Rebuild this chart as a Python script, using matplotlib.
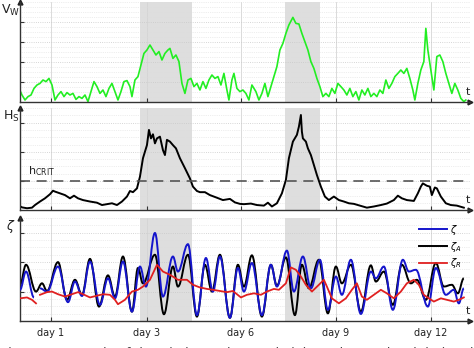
import numpy as np
import matplotlib
matplotlib.use('Agg')
import matplotlib.pyplot as plt
from matplotlib.path import Path
from matplotlib.patches import PathPatch
from matplotlib.ticker import MultipleLocator

# time axis (arbitrary units), day ticks
day_pos = [51, 147, 241, 336, 431]
day_labels = ['day 1', 'day 3', 'day 6', 'day 9', 'day 12']
storms = [(140, 192), (285, 320)]

# wind speed V_W
t_w = [19, 22, 25, 28, 31, 34, 37, 40, 43, 46, 49, 52, 55, 58, 61, 64, 67, 70, 73, 76,
       79, 82, 85, 88, 91, 94, 97, 100, 103, 106, 109, 112, 115, 118, 121, 124, 127, 130,
       132, 135, 138, 141, 144, 147, 150, 153, 156, 159, 162, 165, 168, 170, 173, 176,
       179, 182, 185, 188, 191, 194, 197, 200, 203, 206, 209, 212, 215, 218, 221, 224,
       227, 229, 232, 234, 237, 240, 243, 246, 249, 252, 256, 259, 262, 265, 268, 271,
       274, 277, 280, 283, 286, 289, 293, 296, 299, 302, 305, 308, 311, 314, 317, 320,
       323, 326, 329, 332, 335, 338, 341, 344, 347, 350, 353, 356, 359, 362, 365, 368,
       371, 374, 377, 380, 383, 386, 389, 392, 395, 398, 401, 404, 407, 410, 413, 415,
       418, 421, 424, 426, 428, 430, 432, 434, 437, 440, 443, 446, 449, 452, 455, 458,
       461, 464, 466]
v_w = [0.68, 0.35, 0.10, 0.27, 0.35, 0.68, 0.85, 0.93, 1.10, 1.02, 1.18, 0.85, 0.10, 0.35,
       0.52, 0.27, 0.47, 0.35, 0.43, 0.13, 0.27, 0.18, 0.35, 0.02, 0.52, 1.02, 0.77, 0.43,
       0.60, 0.27, 0.68, 0.93, 0.52, 0.10, 0.52, 1.02, 1.07, 0.77, 0.27, 1.10, 1.27, 1.85,
       2.43, 2.60, 2.85, 2.60, 2.35, 2.52, 2.10, 2.43, 2.60, 2.68, 2.18, 2.35, 2.02, 0.93,
       0.43, 1.10, 1.18, 0.77, 0.93, 0.60, 1.02, 0.68, 1.10, 1.35, 1.18, 1.27, 0.85, 1.43,
       0.60, 0.10, 1.10, 1.43, 0.68, 0.52, 0.60, 0.43, 0.10, 0.85, 0.52, 0.10, 0.43, 0.93,
       0.27, 0.77, 1.27, 1.77, 2.60, 2.93, 3.43, 3.85, 4.23, 3.93, 3.90, 3.43, 3.02, 2.60,
       2.02, 1.68, 1.18, 0.77, 0.27, 0.43, 0.27, 0.68, 0.43, 0.93, 0.77, 0.60, 0.35, 0.68,
       0.27, 0.52, 0.10, 0.60, 0.35, 0.68, 0.27, 0.43, 0.27, 0.60, 0.43, 1.10, 0.68, 0.93,
       1.27, 1.43, 1.60, 1.43, 1.68, 1.18, 0.60, 0.10, 0.93, 1.60, 2.02, 3.68, 2.60, 1.93,
       1.27, 0.60, 2.27, 2.35, 2.02, 1.43, 0.93, 0.43, 0.93, 0.60, 0.18, 0.02, 0.10]

# significant wave height H_S
t_h = [19, 22, 27, 32, 35, 40, 45, 50, 53, 55, 60, 65, 70, 74, 78, 83, 90, 97, 102, 107,
       112, 117, 122, 127, 130, 133, 137, 140, 143, 147, 149, 151, 153, 155, 157, 160, 163,
       165, 167, 170, 173, 176, 180, 185, 190, 193, 197, 200, 205, 210, 217, 223, 230, 235,
       240, 244, 251, 257, 264, 268, 272, 277, 282, 286, 289, 293, 297, 299, 301, 302, 303,
       306, 308, 311, 314, 317, 321, 325, 329, 334, 339, 344, 349, 354, 361, 367, 374, 381,
       387, 394, 398, 402, 407, 414, 418, 421, 423, 427, 430, 432, 435, 437, 441, 446, 451,
       457, 464]
h_s = [0.16, 0.10, 0.07, 0.09, 0.18, 0.30, 0.41, 0.55, 0.67, 0.64, 0.58, 0.52, 0.41, 0.50,
       0.41, 0.35, 0.30, 0.26, 0.18, 0.21, 0.24, 0.18, 0.30, 0.47, 0.66, 0.62, 0.75, 1.15,
       1.78, 2.23, 2.75, 2.46, 2.60, 2.29, 2.46, 2.52, 2.06, 1.89, 2.41, 2.35, 2.23, 2.12,
       1.78, 1.44, 1.09, 0.81, 0.66, 0.62, 0.62, 0.52, 0.43, 0.35, 0.39, 0.27, 0.22,
       0.21, 0.23, 0.18, 0.16, 0.26, 0.13, 0.24, 0.58, 1.04, 1.78, 2.35, 2.58, 2.86, 3.26,
       2.69, 2.46, 2.35, 2.12, 1.89, 1.55, 1.21, 0.81, 0.47, 0.35, 0.47, 0.35, 0.30, 0.24,
       0.22, 0.15, 0.09, 0.13, 0.18, 0.23, 0.35, 0.50, 0.41, 0.35, 0.32, 0.58, 0.81, 0.92,
       0.84, 0.81, 0.52, 0.78, 0.75, 0.47, 0.24, 0.18, 0.16, 0.09]
h_crit = 1.0

# water level zeta (total), zeta_A (astronomical), zeta_R (residual); extrema
t_za = [20, 26, 36, 42, 47, 58, 67, 75, 82, 90, 99, 108, 115, 123, 132, 138, 143, 155,
        164, 173, 178, 188, 197, 205, 212, 220, 230, 238, 244, 252, 262, 271, 277, 286,
        295, 302, 309, 319, 328, 336, 342, 351, 361, 371, 376, 384, 393, 402, 411, 417,
        426, 436, 444, 452, 458, 464]
z_a = [1.23, 1.91, 1.00, 1.28, 1.02, 2.00, 0.72, 1.40, 0.89, 2.11, 0.49, 1.55, 0.83, 2.19,
       0.32, 1.80, 1.28, 2.25, 0.23, 1.85, 1.17, 2.25, 0.15, 1.91, 1.00, 2.25, 0.11, 1.91,
       1.17, 2.23, 0.15, 1.91, 1.20, 2.16, 0.20, 1.91, 1.11, 2.08, 0.26, 1.85, 1.28, 1.91,
       0.32, 1.89, 1.34, 1.68, 0.55, 1.91, 1.28, 1.40, 0.72, 1.97, 1.17, 1.23, 0.94, 1.45]

t_z = [20, 26, 34, 38, 40, 47, 58, 68, 75, 82, 90, 100, 108, 115, 123, 132, 140, 146, 155,
       163, 173, 178, 188, 197, 206, 213, 220, 230, 238, 244, 252, 262, 271, 277, 287, 294,
       303, 311, 320, 328, 336, 342, 351, 361, 371, 376, 384, 393, 403, 409, 416, 428, 436,
       446, 454, 459, 464]
z = [1.06, 1.68, 0.80, np.nan, 1.11, 1.00, 1.85, 0.64, 1.34, 0.85, 2.02, 0.55, 1.45, 0.77,
     2.02, 0.32, 1.85, 1.17, 2.99, 0.83, 2.19, 1.68, 2.61, 0.20, 2.14, 1.00, 2.19, 0.11,
     1.80, 1.00, 1.97, 0.20, 1.91, 1.17, 2.39, 1.00, 2.19, 1.11, 2.08, 0.38, 1.51, 0.89,
     2.08, 0.24, 1.68, 1.45, 1.85, 0.38, 2.08, 1.68, 1.74, 0.49, 1.80, 0.89, 1.06, 0.60,
     1.11]

t_zr = [20, 27, 32, 36, 38, 40, 47, 52, 58, 65, 72, 78, 83, 90, 97, 103, 110, 115, 118,
        125, 132, 138, 143, 150, 157, 163, 170, 178, 187, 193, 200, 207, 213, 220, 227, 233,
        241, 247, 254, 261, 267, 274, 279, 286, 291, 296, 301, 306, 312, 319, 324, 327,
        332, 339, 346, 352, 357, 362, 367, 374, 381, 387, 394, 401, 407, 414, 419, 424,
        429, 434, 441, 447, 454, 459, 464]
z_r = [0.77, 0.80, 0.72, 0.60, np.nan, 0.89, 0.98, 1.00, 0.91, 0.83, 0.91, 0.98, 0.91,
       0.80, 0.86, 0.91, 0.89, 0.72, 0.57, 0.72, 1.00, 1.06, 1.17, 1.40, 1.91, 1.68, 1.57,
       1.40, 1.40, 1.23, 1.14, 1.09, 1.06, 1.02, 0.98, 1.02, 0.80, 0.89, 0.94, 0.89, 1.00,
       1.09, 1.06, 1.28, 1.82, 1.74, 1.51, 1.23, 1.00, 1.23, 1.40, 1.17, 0.77, 0.60, 0.77,
       1.06, 1.28, 0.83, 0.72, 0.89, 1.06, 0.94, 0.77, 1.00, 1.28, 1.40, 1.23, 0.89, 0.77,
       0.66, 0.77, 0.72, 0.66, 0.72, 0.80]


def smooth_curve(ax, x, y, **kw):
    # bezier through extrema, flat tangent at each point, NaN breaks the line
    x = np.asarray(x, float)
    y = np.asarray(y, float)
    verts, codes = [], []
    pen_down = False
    for i in range(len(x)):
        if np.isnan(y[i]):
            pen_down = False
            continue
        if not pen_down:
            verts.append((x[i], y[i]))
            codes.append(Path.MOVETO)
            pen_down = True
        else:
            x0, y0 = verts[-1]
            dx = x[i] - x0
            verts += [(x0 + 0.38 * dx, y0), (x[i] - 0.38 * dx, y[i]), (x[i], y[i])]
            codes += [Path.CURVE4] * 3
    ax.add_patch(PathPatch(Path(verts, codes), fill=False, **kw))
    return ax.plot([], [], color=kw.get('edgecolor'), lw=kw.get('lw'))[0]


def style_axis(ax, ymax, ylabel, yticks):
    ax.set_xlim(20, 470)
    ax.set_ylim(0, ymax)
    for s in ['top', 'right']:
        ax.spines[s].set_visible(False)
    for s in ['left', 'bottom']:
        ax.spines[s].set_color('#333333')
        ax.spines[s].set_linewidth(1.0)
    ax.set_xticks(day_pos)
    ax.set_yticks(yticks)
    ax.yaxis.set_minor_locator(MultipleLocator(0.25))
    ax.tick_params(axis='both', which='major', direction='in', length=3, width=0.8,
                   colors='#333333', labelleft=False, labelbottom=False)
    ax.tick_params(axis='y', which='minor', length=0)
    ax.grid(axis='x', color='#d4d4d4', lw=0.6)
    ax.grid(axis='y', which='major', color='#c8c8c8', lw=0.6, ls=':')
    ax.grid(axis='y', which='minor', color='#dddddd', lw=0.5, ls=':')
    ax.set_axisbelow(True)
    for a, b in storms:
        ax.axvspan(a, b, color='#dedede', lw=0, zorder=0)
    ax.plot(0, 1, '^', color='#222222', ms=3.5, transform=ax.transAxes, clip_on=False)
    ax.plot(1, 0, '>', color='#222222', ms=3.5, transform=ax.transAxes, clip_on=False)
    ax.text(-0.02, 0.92, ylabel, transform=ax.transAxes, fontsize=9, ha='center',
            va='center', color='#222222')
    ax.text(0.995, 0.1, 't', transform=ax.transAxes, fontsize=8, ha='center',
            va='center', color='#222222')


fig = plt.figure(figsize=(4.74, 3.48), dpi=100)
ax1 = fig.add_axes([0.0422, 0.7069, 0.949, 0.2874])
ax2 = fig.add_axes([0.0422, 0.3957, 0.949, 0.2940])
ax3 = fig.add_axes([0.0422, 0.0776, 0.949, 0.2960])

style_axis(ax1, 5.0, r'$\mathrm{V_W}$', [1, 2, 3, 4])
ax1.plot(t_w, v_w, color='#22ee22', lw=1.2)

style_axis(ax2, 3.5, r'$\mathrm{H_S}$', [1, 2, 3])
ax2.plot(t_h, h_s, color='black', lw=1.4)
ax2.axhline(h_crit, color='#555555', lw=1.2, dashes=(6, 4))
ax2.text(28, h_crit + 0.1, r'$\mathrm{h_{CRIT}}$', fontsize=8, color='#222222',
         va='bottom', ha='left')

style_axis(ax3, 3.5, r'$\zeta$', [1, 2, 3])
l1 = smooth_curve(ax3, t_z, z, edgecolor='#1515cc', lw=1.4, zorder=3)
l2 = smooth_curve(ax3, t_za, z_a, edgecolor='black', lw=1.4, zorder=2)
l3, = ax3.plot(t_zr, z_r, color='#e02020', lw=1.3, zorder=4)
ax3.set_xticklabels(day_labels)
ax3.tick_params(axis='x', labelbottom=True, labelsize=7, pad=5, labelcolor='#222222')
ax3.legend([l1, l2, l3], [r'$\zeta$', r'$\zeta_A$', r'$\zeta_R$'], loc='upper right',
           bbox_to_anchor=(1.0, 1.04), frameon=False, fontsize=7, handlelength=2.8,
           labelspacing=0.3, handletextpad=0.3)

# caption of the source page, only its top edge shows at the bottom
fig.text(0.005, -0.026, 'Figure 4. Example of the wind speed, wave height and water level '
         'during the storm events', fontsize=9, color='#444444', va='baseline')

fig.savefig('out.png', dpi=100)
